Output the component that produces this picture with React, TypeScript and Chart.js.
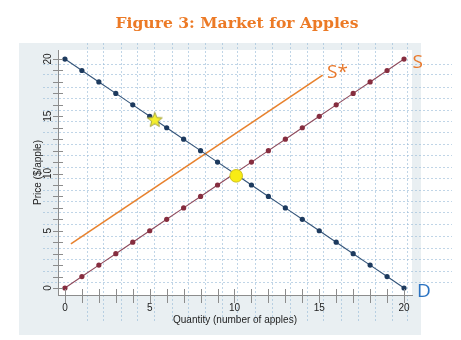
import React, { useEffect, useRef } from 'react';
import { Chart, registerables } from 'chart.js';

Chart.register(...registerables);

// ---- data ----
const quantities = [0, 1, 2, 3, 4, 5, 6, 7, 8, 9, 10, 11, 12, 13, 14, 15, 16, 17, 18, 19, 20];
const demandPrices = [20, 19, 18, 17, 16, 15, 14, 13, 12, 11, 10, 9, 8, 7, 6, 5, 4, 3, 2, 1, 0];
const supplyPrices = [0, 1, 2, 3, 4, 5, 6, 7, 8, 9, 10, 11, 12, 13, 14, 15, 16, 17, 18, 19, 20];
const shiftedSupplyQ = [0.35, 15.2];
const shiftedSupplyP = [3.85, 18.6];
const starQ = [5.3];
const starP = [14.7];
const equilibriumQ = [10.1];
const equilibriumP = [9.8];

const xTickValues = [0, 1, 2, 3, 4, 5, 6, 7, 8, 9, 10, 11, 12, 13, 14, 15, 16, 17, 18, 19, 20];
const yTickValues = [0, 1, 2, 3, 4, 5, 6, 7, 8, 9, 10, 11, 12, 13, 14, 15, 16, 17, 18, 19, 20];
const xLabelValues = [0, 5, 10, 15, 20];
const yLabelValues = [0, 5, 10, 15, 20];
const gridQ = [1.3, 2.25, 3.3, 4.25, 5.25, 6.3, 7.26, 8.26, 9.26, 10.15, 11.2, 12.2, 13.3, 14.3, 15.2, 16.3, 17.3, 18.3, 19.3, 20.2];
const gridP = [0.55, 1.5, 2.5, 3.5, 4.5, 5.55, 6.6, 7.6, 8.6, 9.65, 10.6, 11.6, 12.6, 13.6, 14.6, 15.55, 16.6, 17.6, 18.7, 19.6];

const titleText = 'Figure 3: Market for Apples';
const xTitle = 'Quantity (number of apples)';
const yTitle = 'Price ($/apple)';
const curveLabels = [
  { text: 'S*', q: 15.46, p: 18.8, color: '#e9782b' },
  { text: 'S', q: 20.5, p: 19.65, color: '#e9782b' },
  { text: 'D', q: 20.77, p: -0.35, color: '#2b73c2' },
];

function makeStar(): HTMLCanvasElement {
  const c = document.createElement('canvas');
  c.width = 18;
  c.height = 18;
  const g = c.getContext('2d')!;
  g.beginPath();
  for (let i = 0; i < 10; i++) {
    const r = i % 2 === 0 ? 7.8 : 3.4;
    const a = -Math.PI / 2 + (i * Math.PI) / 5;
    const x = 9 + r * Math.cos(a);
    const y = 9.5 + r * Math.sin(a);
    if (i === 0) g.moveTo(x, y);
    else g.lineTo(x, y);
  }
  g.closePath();
  g.fillStyle = '#f4ef2e';
  g.fill();
  g.strokeStyle = '#a3a23c';
  g.lineWidth = 1;
  g.stroke();
  return c;
}

const decorPlugin = {
  id: 'decor',
  beforeDraw(chart: any) {
    const { ctx, chartArea: a, width, height } = chart;
    const xs = chart.scales.x;
    const ys = chart.scales.y;
    ctx.save();
    ctx.fillStyle = '#ffffff';
    ctx.fillRect(0, 0, width, height);
    ctx.fillStyle = '#e9eff2';
    ctx.fillRect(a.left - 39, a.top - 7, a.right - a.left + 48, a.bottom - a.top + 47);
    ctx.fillStyle = '#ffffff';
    ctx.fillRect(a.left, a.top, a.right - a.left, a.bottom - a.top);
    // dashed grid
    ctx.setLineDash([2, 2]);
    ctx.lineWidth = 1;
    ctx.strokeStyle = 'rgba(150,185,215,0.6)';
    gridQ.forEach((q) => {
      const x = Math.round(xs.getPixelForValue(q)) + 0.5;
      ctx.beginPath();
      ctx.moveTo(x, a.top - 7);
      ctx.lineTo(x, a.bottom + 28);
      ctx.stroke();
    });
    gridP.forEach((p) => {
      const y = Math.round(ys.getPixelForValue(p)) + 0.5;
      ctx.beginPath();
      ctx.moveTo(a.left - 15, y);
      ctx.lineTo(a.right + 40, y);
      ctx.stroke();
    });
    ctx.restore();
  },
  afterDraw(chart: any) {
    const { ctx, chartArea: a } = chart;
    const xs = chart.scales.x;
    const ys = chart.scales.y;
    ctx.save();
    // tick marks
    ctx.strokeStyle = '#8c8c8c';
    ctx.lineWidth = 1;
    yTickValues.forEach((v) => {
      const y = Math.round(ys.getPixelForValue(v)) + 0.5;
      ctx.beginPath();
      ctx.moveTo(a.left - 5, y);
      ctx.lineTo(a.left + 5, y);
      ctx.stroke();
    });
    xTickValues.forEach((v) => {
      const x = Math.round(xs.getPixelForValue(v)) + 0.5;
      ctx.beginPath();
      ctx.moveTo(x, a.bottom - 6);
      ctx.lineTo(x, a.bottom + 8);
      ctx.stroke();
    });
    // rotated y labels
    ctx.fillStyle = '#222';
    ctx.font = '10px "Liberation Sans", Arial, sans-serif';
    ctx.textAlign = 'center';
    ctx.textBaseline = 'middle';
    yLabelValues.forEach((v) => {
      const y = ys.getPixelForValue(v);
      ctx.save();
      ctx.translate(a.left - 10, y);
      ctx.rotate(-Math.PI / 2);
      ctx.fillText(String(v), 0, 0);
      ctx.restore();
    });
    // curve labels
    ctx.font = '19px "Open Sans", sans-serif';
    ctx.textAlign = 'left';
    ctx.textBaseline = 'middle';
    curveLabels.forEach((l) => {
      ctx.fillStyle = l.color;
      ctx.fillText(l.text, xs.getPixelForValue(l.q), ys.getPixelForValue(l.p));
    });
    // title
    ctx.fillStyle = '#ec7a26';
    ctx.font = 'bold 15.6px "DejaVu Serif", serif';
    ctx.textAlign = 'center';
    ctx.textBaseline = 'middle';
    ctx.fillText(titleText, (a.left + a.right) / 2 + 2, a.top - 26);
    ctx.restore();
  },
};

export default function App() {
  const ref = useRef<HTMLCanvasElement | null>(null);
  useEffect(() => {
    if (!ref.current) return;
    const star = makeStar();
    // Chart.js draws the first dataset on top, so markers come first.
    const chart = new Chart(ref.current, {
      type: 'scatter',
      data: {
        datasets: [
          {
            label: 'eq',
            data: equilibriumQ.map((q, i) => ({ x: q, y: equilibriumP[i] })),
            pointRadius: 6.3,
            pointBackgroundColor: '#f8ec14',
            pointBorderColor: '#cfc01c',
            pointBorderWidth: 1,
          },
          {
            label: 'star',
            data: starQ.map((q, i) => ({ x: q, y: starP[i] })),
            pointStyle: star as any,
            pointRadius: 8,
          },
          {
            label: 'S',
            data: quantities.map((q, i) => ({ x: q, y: supplyPrices[i] })),
            showLine: true,
            borderColor: '#8e4a5c',
            borderWidth: 1.1,
            pointRadius: 2.6,
            pointBackgroundColor: '#862d3f',
            pointBorderWidth: 0,
          },
          {
            label: 'D',
            data: quantities.map((q, i) => ({ x: q, y: demandPrices[i] })),
            showLine: true,
            borderColor: '#35557a',
            borderWidth: 1.1,
            pointRadius: 2.6,
            pointBackgroundColor: '#1d3a5e',
            pointBorderWidth: 0,
          },
          {
            label: 'S* shifted',
            data: shiftedSupplyQ.map((q, i) => ({ x: q, y: shiftedSupplyP[i] })),
            showLine: true,
            borderColor: '#e8822e',
            borderWidth: 1.6,
            pointRadius: 0,
          },
        ],
      },
      plugins: [decorPlugin],
      options: {
        responsive: false,
        animation: false,
        events: [],
        layout: { padding: { left: 0, top: 50, right: 49, bottom: 5 } },
        plugins: { legend: { display: false }, tooltip: { enabled: false }, title: { display: false } },
        scales: {
          x: {
            type: 'linear',
            min: -0.41,
            max: 20.47,
            afterBuildTicks: (s: any) => {
              s.ticks = xTickValues.map((v) => ({ value: v }));
            },
            afterFit: (s: any) => {
              s.height = 40;
            },
            grid: { display: false, drawTicks: true, tickLength: 6 },
            border: { display: true, color: '#8c8c8c', width: 1 },
            ticks: {
              autoSkip: false,
              maxRotation: 0,
              padding: 1,
              color: '#222',
              font: { family: '"Liberation Sans", Arial, sans-serif', size: 10 },
              callback: (v: any) => (xLabelValues.includes(Number(v)) ? String(v) : ''),
            },
            title: {
              display: true,
              text: xTitle,
              color: '#222',
              font: { family: '"Liberation Sans", Arial, sans-serif', size: 10 },
              padding: { top: 0, bottom: 9 },
            },
          },
          y: {
            type: 'linear',
            min: -0.61,
            max: 20.79,
            afterBuildTicks: (s: any) => {
              s.ticks = yTickValues.map((v) => ({ value: v }));
            },
            afterFit: (s: any) => {
              s.width = 58;
            },
            grid: { display: false },
            border: { display: true, color: '#8c8c8c', width: 1 },
            ticks: { display: false },
            title: {
              display: true,
              text: yTitle,
              color: '#222',
              font: { family: '"Liberation Sans", Arial, sans-serif', size: 10 },
              padding: { top: 32, bottom: 0 },
            },
          },
        },
      },
    });
    return () => chart.destroy();
  }, []);
  return (
    <div style={{ position: 'absolute', left: 0, top: 0, width: 461, height: 340 }}>
      <canvas ref={ref} width={461} height={340} style={{ display: 'block' }} />
    </div>
  );
}
